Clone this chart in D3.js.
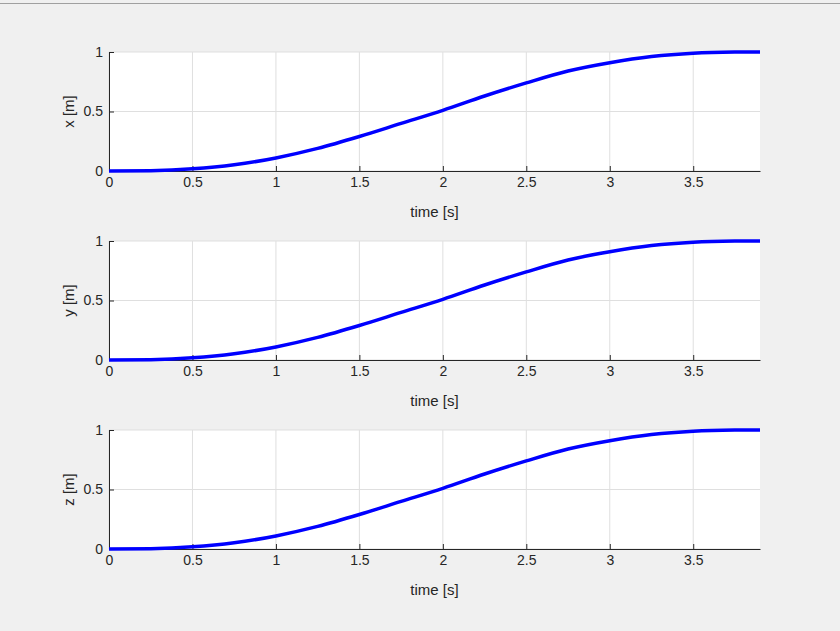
<!DOCTYPE html>
<html>
<head>
<meta charset="utf-8">
<script src="https://cdn.jsdelivr.net/npm/d3@7"></script>
<style>
  body { margin: 0; background: #f0f0f0; }
  text { font-family: "Liberation Sans", Arial, sans-serif; }
</style>
</head>
<body>
<div id="chart"></div>
<script>
// values
var times = [0, 0.25, 0.5, 0.75, 1, 1.25, 1.5, 1.75, 2, 2.25, 2.5, 2.75, 3, 3.25, 3.5, 3.75, 3.9];
var xPos = [0, 0.003, 0.018, 0.052, 0.11, 0.19, 0.29, 0.4, 0.51, 0.63, 0.74, 0.84, 0.91, 0.962, 0.99, 0.999, 1];
var yPos = [0, 0.003, 0.018, 0.052, 0.11, 0.19, 0.29, 0.4, 0.51, 0.63, 0.74, 0.84, 0.91, 0.962, 0.99, 0.999, 1];
var zPos = [0, 0.003, 0.018, 0.052, 0.11, 0.19, 0.29, 0.4, 0.51, 0.63, 0.74, 0.84, 0.91, 0.962, 0.99, 0.999, 1];
var xTicks = [0, 0.5, 1, 1.5, 2, 2.5, 3, 3.5];
var yTicks = [0, 0.5, 1];
var panels = [
  { label: "x [m]", values: xPos, top: 52 },
  { label: "y [m]", values: yPos, top: 241 },
  { label: "z [m]", values: zPos, top: 430 }
];

var svgWidth = 840, svgHeight = 631;
var left = 109, plotW = 651, plotH = 119;

var svg = d3.select("#chart").append("svg")
  .attr("width", svgWidth).attr("height", svgHeight);

svg.append("line").attr("x1", 0).attr("x2", svgWidth).attr("y1", 3.5).attr("y2", 3.5)
  .attr("stroke", "#a0a0a0");

var xScale = d3.scaleLinear().domain([0, 3.9]).range([0, plotW]);
var yScale = d3.scaleLinear().domain([0, 1]).range([plotH, 0]);

panels.forEach(function(p) {
  var g = svg.append("g").attr("transform", `translate(${left}, ${p.top})`);
  g.append("rect").attr("width", plotW).attr("height", plotH).attr("fill", "white");

  // grid
  g.selectAll(".vg").data(xTicks).enter().append("line")
    .attr("x1", d => xScale(d)).attr("x2", d => xScale(d))
    .attr("y1", 0).attr("y2", plotH).attr("stroke", "#dfdfdf");
  g.selectAll(".hg").data(yTicks).enter().append("line")
    .attr("x1", 0).attr("x2", plotW)
    .attr("y1", d => yScale(d)).attr("y2", d => yScale(d)).attr("stroke", "#dfdfdf");

  var xAxis = d3.axisBottom(xScale).tickValues(xTicks).tickFormat(d3.format("")).tickSizeInner(-5).tickSizeOuter(0).tickPadding(6);
  var yAxis = d3.axisLeft(yScale).tickValues(yTicks).tickFormat(d3.format("")).tickSizeInner(-5).tickSizeOuter(0).tickPadding(6);

  var ax = g.append("g").attr("transform", `translate(0, ${plotH})`).call(xAxis);
  var ay = g.append("g").call(yAxis);
  [ax, ay].forEach(function(a) {
    a.selectAll("path, line").attr("stroke", "#262626");
    a.selectAll("text").attr("fill", "#262626").style("font-size", "14px");
  });

  var line = d3.line()
    .x((d, i) => xScale(times[i]))
    .y(d => yScale(d))
    .curve(d3.curveMonotoneX);
  g.append("path").datum(p.values).attr("d", line)
    .attr("fill", "none").attr("stroke", "#0000ff").attr("stroke-width", 3.5);

  g.append("text").attr("x", plotW / 2).attr("y", plotH + 46)
    .attr("text-anchor", "middle").attr("fill", "#262626").style("font-size", "15px")
    .text("time [s]");
  g.append("text").attr("transform", `translate(-35, ${plotH / 2}) rotate(-90)`)
    .attr("text-anchor", "middle").attr("fill", "#262626").style("font-size", "15px")
    .text(p.label);
});
</script>
</body>
</html>
